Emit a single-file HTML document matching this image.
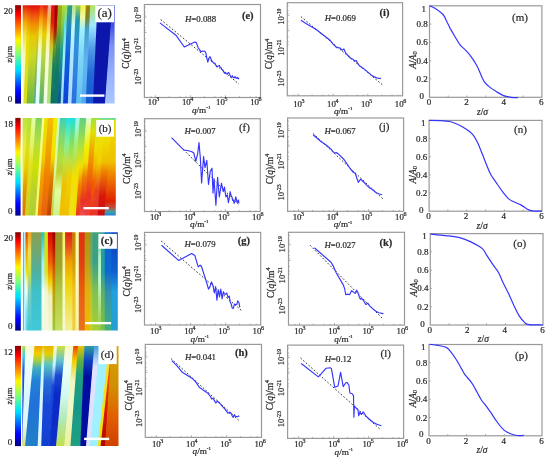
<!DOCTYPE html><html><head><meta charset="utf-8"><style>html,body{margin:0;padding:0;background:#fff;}svg{display:block;}text{stroke:#262626;stroke-width:0.2px;}</style></head><body>
<svg width="550" height="461" viewBox="0 0 550 461" font-family="'Liberation Serif','Times New Roman',serif" fill="#262626" stroke-width="0.25">
<defs><linearGradient id="jet" x1="0" y1="1" x2="0" y2="0"><stop offset="0" stop-color="#00007f"/><stop offset="0.11" stop-color="#0000ff"/><stop offset="0.125" stop-color="#0000ff"/><stop offset="0.34" stop-color="#00dcff"/><stop offset="0.36" stop-color="#00e5f6"/><stop offset="0.5" stop-color="#7dff7a"/><stop offset="0.64" stop-color="#f8f800"/><stop offset="0.66" stop-color="#ffea00"/><stop offset="0.89" stop-color="#ff1300"/><stop offset="0.91" stop-color="#ff0000"/><stop offset="1" stop-color="#7f0000"/></linearGradient><filter id="gb" x="0" y="0" width="100%" height="100%" filterUnits="userSpaceOnUse"><feGaussianBlur stdDeviation="0.35"/></filter><filter id="bl" x="-5%" y="-5%" width="110%" height="110%"><feGaussianBlur stdDeviation="0.5"/></filter><linearGradient id="ga0" gradientUnits="userSpaceOnUse" x1="0" y1="5.2" x2="0" y2="103.6"><stop offset="0" stop-color="#e02010"/><stop offset=".08" stop-color="#f06010"/><stop offset=".18" stop-color="#f0b000"/><stop offset=".3" stop-color="#f0e040"/><stop offset=".5" stop-color="#f8f8b0"/><stop offset="1" stop-color="#fafad8"/></linearGradient><linearGradient id="ga1" gradientUnits="userSpaceOnUse" x1="0" y1="5.2" x2="0" y2="103.6"><stop offset="0" stop-color="#e01010"/><stop offset=".1" stop-color="#f06010"/><stop offset=".2" stop-color="#f0a000"/><stop offset=".32" stop-color="#e8d800"/><stop offset=".6" stop-color="#e0e010"/><stop offset="1" stop-color="#d8e020"/></linearGradient><linearGradient id="ga2" gradientUnits="userSpaceOnUse" x1="0" y1="5.2" x2="0" y2="103.6"><stop offset="0" stop-color="#e01010"/><stop offset=".1" stop-color="#f05010"/><stop offset=".2" stop-color="#f09000"/><stop offset=".32" stop-color="#e8c800"/><stop offset=".5" stop-color="#d0d820"/><stop offset=".75" stop-color="#a0c838"/><stop offset="1" stop-color="#70b840"/></linearGradient><linearGradient id="ga3" gradientUnits="userSpaceOnUse" x1="0" y1="5.2" x2="0" y2="103.6"><stop offset="0" stop-color="#e01010"/><stop offset=".15" stop-color="#f07010"/><stop offset=".28" stop-color="#e0c000"/><stop offset=".5" stop-color="#b0c840"/><stop offset=".8" stop-color="#60b080"/><stop offset="1" stop-color="#50b090"/></linearGradient><linearGradient id="ga4" gradientUnits="userSpaceOnUse" x1="0" y1="5.2" x2="0" y2="103.6"><stop offset="0" stop-color="#f03010"/><stop offset=".14" stop-color="#f0a000"/><stop offset=".26" stop-color="#f0e040"/><stop offset=".4" stop-color="#f8f8a0"/><stop offset=".6" stop-color="#e8fff0"/><stop offset="1" stop-color="#e0fff8"/></linearGradient><linearGradient id="ga5" gradientUnits="userSpaceOnUse" x1="0" y1="5.2" x2="0" y2="103.6"><stop offset="0" stop-color="#e02010"/><stop offset=".15" stop-color="#f08010"/><stop offset=".3" stop-color="#e8d000"/><stop offset=".5" stop-color="#b8d840"/><stop offset=".8" stop-color="#80c058"/><stop offset="1" stop-color="#50b070"/></linearGradient><linearGradient id="ga6" gradientUnits="userSpaceOnUse" x1="0" y1="5.2" x2="0" y2="103.6"><stop offset="0" stop-color="#f0a0a0"/><stop offset=".15" stop-color="#f0c040"/><stop offset=".3" stop-color="#f8f080"/><stop offset=".5" stop-color="#f8fcd0"/><stop offset="1" stop-color="#f0fce0"/></linearGradient><linearGradient id="ga7" gradientUnits="userSpaceOnUse" x1="0" y1="5.2" x2="0" y2="103.6"><stop offset="0" stop-color="#e01010"/><stop offset=".18" stop-color="#e02010"/><stop offset=".28" stop-color="#e07010"/><stop offset=".4" stop-color="#d0c020"/><stop offset=".55" stop-color="#b0d860"/><stop offset="1" stop-color="#b0e080"/></linearGradient><linearGradient id="ga8" gradientUnits="userSpaceOnUse" x1="0" y1="5.2" x2="0" y2="103.6"><stop offset="0" stop-color="#a00000"/><stop offset=".2" stop-color="#b00800"/><stop offset=".3" stop-color="#a03000"/><stop offset=".42" stop-color="#70a020"/><stop offset=".6" stop-color="#208058"/><stop offset="1" stop-color="#0a7060"/></linearGradient><linearGradient id="ga9" gradientUnits="userSpaceOnUse" x1="0" y1="5.2" x2="0" y2="103.6"><stop offset="0" stop-color="#a0b020"/><stop offset=".2" stop-color="#80a820"/><stop offset=".45" stop-color="#308850"/><stop offset=".7" stop-color="#0a7868"/><stop offset="1" stop-color="#087068"/></linearGradient><linearGradient id="ga10" gradientUnits="userSpaceOnUse" x1="0" y1="5.2" x2="0" y2="103.6"><stop offset="0" stop-color="#b8d830"/><stop offset=".2" stop-color="#80c848"/><stop offset=".45" stop-color="#20a090"/><stop offset="1" stop-color="#0a5090"/></linearGradient><linearGradient id="ga11" gradientUnits="userSpaceOnUse" x1="0" y1="5.2" x2="0" y2="103.6"><stop offset="0" stop-color="#a0e040"/><stop offset=".2" stop-color="#60e0e0"/><stop offset=".5" stop-color="#a0f0ff"/><stop offset="1" stop-color="#a0d8ff"/></linearGradient><linearGradient id="ga12" gradientUnits="userSpaceOnUse" x1="0" y1="5.2" x2="0" y2="103.6"><stop offset="0" stop-color="#30a080"/><stop offset=".25" stop-color="#2080c0"/><stop offset=".5" stop-color="#1060e0"/><stop offset="1" stop-color="#1040d8"/></linearGradient><linearGradient id="ga13" gradientUnits="userSpaceOnUse" x1="0" y1="5.2" x2="0" y2="103.6"><stop offset="0" stop-color="#c0e080"/><stop offset=".2" stop-color="#c0f8ff"/><stop offset=".5" stop-color="#b0e8ff"/><stop offset="1" stop-color="#b0d8ff"/></linearGradient><linearGradient id="ga14" gradientUnits="userSpaceOnUse" x1="0" y1="5.2" x2="0" y2="103.6"><stop offset="0" stop-color="#a0d040"/><stop offset=".15" stop-color="#2098b0"/><stop offset=".4" stop-color="#3090d8"/><stop offset=".7" stop-color="#3080e0"/><stop offset="1" stop-color="#2870e0"/></linearGradient><linearGradient id="ga15" gradientUnits="userSpaceOnUse" x1="0" y1="5.2" x2="0" y2="103.6"><stop offset="0" stop-color="#f8f040"/><stop offset=".12" stop-color="#f0f8a0"/><stop offset=".25" stop-color="#a0f0ff"/><stop offset=".5" stop-color="#80d8f8"/><stop offset="1" stop-color="#60c0f0"/></linearGradient><linearGradient id="ga16" gradientUnits="userSpaceOnUse" x1="0" y1="5.2" x2="0" y2="103.6"><stop offset="0" stop-color="#a08000"/><stop offset=".12" stop-color="#808020"/><stop offset=".25" stop-color="#40a0d0"/><stop offset=".6" stop-color="#60b8f0"/><stop offset="1" stop-color="#50a8f0"/></linearGradient><linearGradient id="ga17" gradientUnits="userSpaceOnUse" x1="0" y1="5.2" x2="0" y2="103.6"><stop offset="0" stop-color="#b0e060"/><stop offset=".2" stop-color="#a0e8ff"/><stop offset=".45" stop-color="#5098e8"/><stop offset=".7" stop-color="#2068d8"/><stop offset="1" stop-color="#1858d0"/></linearGradient><linearGradient id="ga18" gradientUnits="userSpaceOnUse" x1="0" y1="5.2" x2="0" y2="103.6"><stop offset="0" stop-color="#0818b0"/><stop offset=".5" stop-color="#0a14a8"/><stop offset="1" stop-color="#0818b0"/></linearGradient><linearGradient id="ga19" gradientUnits="userSpaceOnUse" x1="0" y1="5.2" x2="0" y2="103.6"><stop offset="0" stop-color="#2030d0"/><stop offset=".2" stop-color="#4050e0"/><stop offset=".4" stop-color="#7890f0"/><stop offset=".7" stop-color="#98b0ff"/><stop offset="1" stop-color="#a8c8ff"/></linearGradient><linearGradient id="gb0" gradientUnits="userSpaceOnUse" x1="0" y1="117.9" x2="0" y2="215.6"><stop offset="0" stop-color="#c0e040"/><stop offset=".3" stop-color="#e8f040"/><stop offset=".6" stop-color="#f0e020"/><stop offset="1" stop-color="#f8e060"/></linearGradient><linearGradient id="gb1" gradientUnits="userSpaceOnUse" x1="0" y1="117.9" x2="0" y2="215.6"><stop offset="0" stop-color="#b0e040"/><stop offset=".3" stop-color="#d8e020"/><stop offset=".5" stop-color="#e8d000"/><stop offset=".7" stop-color="#e0a000"/><stop offset="1" stop-color="#e07000"/></linearGradient><linearGradient id="gb2" gradientUnits="userSpaceOnUse" x1="0" y1="117.9" x2="0" y2="215.6"><stop offset="0" stop-color="#e0ffa0"/><stop offset=".3" stop-color="#e8f060"/><stop offset=".5" stop-color="#e0e020"/><stop offset="1" stop-color="#c8d020"/></linearGradient><linearGradient id="gb3" gradientUnits="userSpaceOnUse" x1="0" y1="117.9" x2="0" y2="215.6"><stop offset="0" stop-color="#80d060"/><stop offset=".25" stop-color="#b0e040"/><stop offset=".5" stop-color="#d0e000"/><stop offset=".75" stop-color="#b8d030"/><stop offset="1" stop-color="#b0d030"/></linearGradient><linearGradient id="gb4" gradientUnits="userSpaceOnUse" x1="0" y1="117.9" x2="0" y2="215.6"><stop offset="0" stop-color="#f8ff90"/><stop offset=".5" stop-color="#f8f870"/><stop offset="1" stop-color="#f8f870"/></linearGradient><linearGradient id="gb5" gradientUnits="userSpaceOnUse" x1="0" y1="117.9" x2="0" y2="215.6"><stop offset="0" stop-color="#f0e000"/><stop offset=".4" stop-color="#f0d000"/><stop offset=".6" stop-color="#f0a000"/><stop offset="1" stop-color="#f08000"/></linearGradient><linearGradient id="gb6" gradientUnits="userSpaceOnUse" x1="0" y1="117.9" x2="0" y2="215.6"><stop offset="0" stop-color="#f0c000"/><stop offset=".35" stop-color="#f0a000"/><stop offset=".6" stop-color="#f08000"/><stop offset="1" stop-color="#e86010"/></linearGradient><linearGradient id="gb7" gradientUnits="userSpaceOnUse" x1="0" y1="117.9" x2="0" y2="215.6"><stop offset="0" stop-color="#f0f000"/><stop offset=".4" stop-color="#f0e000"/><stop offset=".6" stop-color="#e08000"/><stop offset="1" stop-color="#c04000"/></linearGradient><linearGradient id="gb8" gradientUnits="userSpaceOnUse" x1="0" y1="117.9" x2="0" y2="215.6"><stop offset="0" stop-color="#c0f8f0"/><stop offset=".3" stop-color="#e0f8a0"/><stop offset=".5" stop-color="#e0f8a0"/><stop offset="1" stop-color="#c0d030"/></linearGradient><linearGradient id="gb9" gradientUnits="userSpaceOnUse" x1="0" y1="117.9" x2="0" y2="215.6"><stop offset="0" stop-color="#40d0b0"/><stop offset=".2" stop-color="#80d870"/><stop offset=".4" stop-color="#b0e040"/><stop offset=".55" stop-color="#c0d030"/><stop offset=".75" stop-color="#e0ffa0"/><stop offset="1" stop-color="#d0f090"/></linearGradient><linearGradient id="gb10" gradientUnits="userSpaceOnUse" x1="0" y1="117.9" x2="0" y2="215.6"><stop offset="0" stop-color="#20e0e0"/><stop offset=".25" stop-color="#80f0a0"/><stop offset=".45" stop-color="#c0e040"/><stop offset=".7" stop-color="#f0c000"/><stop offset="1" stop-color="#f0c000"/></linearGradient><linearGradient id="gb11" gradientUnits="userSpaceOnUse" x1="0" y1="117.9" x2="0" y2="215.6"><stop offset="0" stop-color="#20e0e0"/><stop offset=".25" stop-color="#80e060"/><stop offset=".45" stop-color="#c0e040"/><stop offset=".6" stop-color="#f0d000"/><stop offset="1" stop-color="#f0c000"/></linearGradient><linearGradient id="gb12" gradientUnits="userSpaceOnUse" x1="0" y1="117.9" x2="0" y2="215.6"><stop offset="0" stop-color="#a0f8f0"/><stop offset=".25" stop-color="#a0f080"/><stop offset=".45" stop-color="#c0e040"/><stop offset=".6" stop-color="#f0e000"/><stop offset="1" stop-color="#f0e020"/></linearGradient><linearGradient id="gb13" gradientUnits="userSpaceOnUse" x1="0" y1="117.9" x2="0" y2="215.6"><stop offset="0" stop-color="#60d080"/><stop offset=".3" stop-color="#b0e040"/><stop offset=".5" stop-color="#f0e000"/><stop offset="1" stop-color="#f0e000"/></linearGradient><linearGradient id="gb14" gradientUnits="userSpaceOnUse" x1="0" y1="117.9" x2="0" y2="215.6"><stop offset="0" stop-color="#60d080"/><stop offset=".3" stop-color="#b0e040"/><stop offset=".5" stop-color="#f0e000"/><stop offset=".7" stop-color="#f08000"/><stop offset="1" stop-color="#e83020"/></linearGradient><linearGradient id="gb15" gradientUnits="userSpaceOnUse" x1="0" y1="117.9" x2="0" y2="215.6"><stop offset="0" stop-color="#e0ffd0"/><stop offset=".3" stop-color="#f0f000"/><stop offset=".45" stop-color="#f0e000"/><stop offset=".6" stop-color="#f08000"/><stop offset=".85" stop-color="#e83020"/><stop offset="1" stop-color="#f05050"/></linearGradient><linearGradient id="gb16" gradientUnits="userSpaceOnUse" x1="0" y1="117.9" x2="0" y2="215.6"><stop offset="0" stop-color="#a0e040"/><stop offset=".15" stop-color="#e0e000"/><stop offset=".3" stop-color="#f0b000"/><stop offset=".5" stop-color="#f08000"/><stop offset=".8" stop-color="#e83020"/><stop offset="1" stop-color="#f04040"/></linearGradient><linearGradient id="gb17" gradientUnits="userSpaceOnUse" x1="0" y1="117.9" x2="0" y2="215.6"><stop offset="0" stop-color="#b0e040"/><stop offset=".3" stop-color="#f0e000"/><stop offset=".5" stop-color="#f0b000"/><stop offset=".65" stop-color="#f06000"/><stop offset="1" stop-color="#e83020"/></linearGradient><linearGradient id="gb18" gradientUnits="userSpaceOnUse" x1="0" y1="117.9" x2="0" y2="215.6"><stop offset="0" stop-color="#40e0e0"/><stop offset=".03" stop-color="#e0e000"/><stop offset=".2" stop-color="#f0e000"/><stop offset=".45" stop-color="#f0d000"/><stop offset=".55" stop-color="#f0a000"/><stop offset=".75" stop-color="#e84020"/><stop offset="1" stop-color="#e83030"/></linearGradient><linearGradient id="gb19" gradientUnits="userSpaceOnUse" x1="0" y1="117.9" x2="0" y2="215.6"><stop offset="0" stop-color="#40e0e0"/><stop offset=".03" stop-color="#e0e000"/><stop offset=".2" stop-color="#f0e000"/><stop offset=".45" stop-color="#f0c000"/><stop offset=".55" stop-color="#f08000"/><stop offset=".8" stop-color="#d81810"/><stop offset="1" stop-color="#c81010"/></linearGradient><linearGradient id="gb20" gradientUnits="userSpaceOnUse" x1="0" y1="117.9" x2="0" y2="215.6"><stop offset="0" stop-color="#20e0e0"/><stop offset=".03" stop-color="#e0e000"/><stop offset=".2" stop-color="#f0d000"/><stop offset=".45" stop-color="#f0c000"/><stop offset=".55" stop-color="#f09000"/><stop offset=".85" stop-color="#e02000"/><stop offset=".92" stop-color="#c05040"/><stop offset=".96" stop-color="#40a0a0"/><stop offset="1" stop-color="#2080e0"/></linearGradient><linearGradient id="gc0" gradientUnits="userSpaceOnUse" x1="0" y1="232.2" x2="0" y2="330.6"><stop offset="0" stop-color="#20d0f0"/><stop offset="1" stop-color="#30d0f0"/></linearGradient><linearGradient id="gc1" gradientUnits="userSpaceOnUse" x1="0" y1="232.2" x2="0" y2="330.6"><stop offset="0" stop-color="#e0ffff"/><stop offset="1" stop-color="#f0ffff"/></linearGradient><linearGradient id="gc2" gradientUnits="userSpaceOnUse" x1="0" y1="232.2" x2="0" y2="330.6"><stop offset="0" stop-color="#e04000"/><stop offset=".2" stop-color="#f0a000"/><stop offset=".4" stop-color="#f0e000"/><stop offset=".5" stop-color="#f0f8a0"/><stop offset=".6" stop-color="#f0fff0"/><stop offset=".8" stop-color="#80e0f0"/><stop offset="1" stop-color="#60d0e0"/></linearGradient><linearGradient id="gc3" gradientUnits="userSpaceOnUse" x1="0" y1="232.2" x2="0" y2="330.6"><stop offset="0" stop-color="#f0a020"/><stop offset=".2" stop-color="#f0e060"/><stop offset=".4" stop-color="#d0e040"/><stop offset=".6" stop-color="#80d0c0"/><stop offset="1" stop-color="#40c8d8"/></linearGradient><linearGradient id="gc4" gradientUnits="userSpaceOnUse" x1="0" y1="232.2" x2="0" y2="330.6"><stop offset="0" stop-color="#88a050"/><stop offset=".2" stop-color="#70a870"/><stop offset=".4" stop-color="#50b0a0"/><stop offset=".6" stop-color="#40c0c8"/><stop offset="1" stop-color="#40c8d8"/></linearGradient><linearGradient id="gc5" gradientUnits="userSpaceOnUse" x1="0" y1="232.2" x2="0" y2="330.6"><stop offset="0" stop-color="#20c0c0"/><stop offset=".3" stop-color="#a0f0ff"/><stop offset=".5" stop-color="#c0f8ff"/><stop offset=".6" stop-color="#f0fff0"/><stop offset="1" stop-color="#f0f8e0"/></linearGradient><linearGradient id="gc6" gradientUnits="userSpaceOnUse" x1="0" y1="232.2" x2="0" y2="330.6"><stop offset="0" stop-color="#d0e000"/><stop offset=".4" stop-color="#e0e020"/><stop offset=".6" stop-color="#f0f8d0"/><stop offset="1" stop-color="#f8f8e0"/></linearGradient><linearGradient id="gc7" gradientUnits="userSpaceOnUse" x1="0" y1="232.2" x2="0" y2="330.6"><stop offset="0" stop-color="#e00000"/><stop offset=".3" stop-color="#f06000"/><stop offset=".5" stop-color="#f0d000"/><stop offset=".65" stop-color="#f0f0c0"/><stop offset="1" stop-color="#f0f8d0"/></linearGradient><linearGradient id="gc8" gradientUnits="userSpaceOnUse" x1="0" y1="232.2" x2="0" y2="330.6"><stop offset="0" stop-color="#900000"/><stop offset=".2" stop-color="#c02000"/><stop offset=".4" stop-color="#d06000"/><stop offset=".6" stop-color="#c0a000"/><stop offset="1" stop-color="#a0c840"/></linearGradient><linearGradient id="gc9" gradientUnits="userSpaceOnUse" x1="0" y1="232.2" x2="0" y2="330.6"><stop offset="0" stop-color="#a09020"/><stop offset=".35" stop-color="#a0a828"/><stop offset=".6" stop-color="#b0c840"/><stop offset="1" stop-color="#c8e060"/></linearGradient><linearGradient id="gc10" gradientUnits="userSpaceOnUse" x1="0" y1="232.2" x2="0" y2="330.6"><stop offset="0" stop-color="#f0f060"/><stop offset=".4" stop-color="#f8f8b0"/><stop offset="1" stop-color="#f8f8d0"/></linearGradient><linearGradient id="gc11" gradientUnits="userSpaceOnUse" x1="0" y1="232.2" x2="0" y2="330.6"><stop offset="0" stop-color="#e02010"/><stop offset=".15" stop-color="#e85020"/><stop offset=".3" stop-color="#f0a000"/><stop offset=".5" stop-color="#f0d000"/><stop offset=".7" stop-color="#f0e040"/><stop offset="1" stop-color="#f0f0a0"/></linearGradient><linearGradient id="gc12" gradientUnits="userSpaceOnUse" x1="0" y1="232.2" x2="0" y2="330.6"><stop offset="0" stop-color="#c08000"/><stop offset=".3" stop-color="#d09800"/><stop offset=".6" stop-color="#f0c020"/><stop offset="1" stop-color="#f0d040"/></linearGradient><linearGradient id="gc13" gradientUnits="userSpaceOnUse" x1="0" y1="232.2" x2="0" y2="330.6"><stop offset="0" stop-color="#f8f8a0"/><stop offset=".5" stop-color="#f8f8c0"/><stop offset="1" stop-color="#f8f0a0"/></linearGradient><linearGradient id="gc14" gradientUnits="userSpaceOnUse" x1="0" y1="232.2" x2="0" y2="330.6"><stop offset="0" stop-color="#e03010"/><stop offset=".3" stop-color="#e04010"/><stop offset=".6" stop-color="#e86010"/><stop offset="1" stop-color="#e87020"/></linearGradient><linearGradient id="gc15" gradientUnits="userSpaceOnUse" x1="0" y1="232.2" x2="0" y2="330.6"><stop offset="0" stop-color="#b09010"/><stop offset=".3" stop-color="#b8a018"/><stop offset=".6" stop-color="#e0b010"/><stop offset="1" stop-color="#f0b800"/></linearGradient><linearGradient id="gc16" gradientUnits="userSpaceOnUse" x1="0" y1="232.2" x2="0" y2="330.6"><stop offset="0" stop-color="#80a040"/><stop offset=".3" stop-color="#80a848"/><stop offset=".6" stop-color="#c0c020"/><stop offset="1" stop-color="#d0d020"/></linearGradient><linearGradient id="gc17" gradientUnits="userSpaceOnUse" x1="0" y1="232.2" x2="0" y2="330.6"><stop offset="0" stop-color="#40a080"/><stop offset=".3" stop-color="#38a088"/><stop offset=".6" stop-color="#80c050"/><stop offset="1" stop-color="#a8d030"/></linearGradient><linearGradient id="gc18" gradientUnits="userSpaceOnUse" x1="0" y1="232.2" x2="0" y2="330.6"><stop offset="0" stop-color="#40a080"/><stop offset=".25" stop-color="#b0f0c0"/><stop offset=".5" stop-color="#c0f8d0"/><stop offset="1" stop-color="#90c840"/></linearGradient><linearGradient id="gc19" gradientUnits="userSpaceOnUse" x1="0" y1="232.2" x2="0" y2="330.6"><stop offset="0" stop-color="#20a0a0"/><stop offset=".4" stop-color="#20a0a0"/><stop offset=".6" stop-color="#60b060"/><stop offset="1" stop-color="#80c040"/></linearGradient><linearGradient id="gc20" gradientUnits="userSpaceOnUse" x1="0" y1="232.2" x2="0" y2="330.6"><stop offset="0" stop-color="#1060d0"/><stop offset=".4" stop-color="#1068d0"/><stop offset=".6" stop-color="#3090b0"/><stop offset="1" stop-color="#40b080"/></linearGradient><linearGradient id="gc21" gradientUnits="userSpaceOnUse" x1="0" y1="232.2" x2="0" y2="330.6"><stop offset="0" stop-color="#0840c0"/><stop offset=".4" stop-color="#1060d0"/><stop offset=".6" stop-color="#20a0e0"/><stop offset="1" stop-color="#20a0d0"/></linearGradient><linearGradient id="gd0" gradientUnits="userSpaceOnUse" x1="0" y1="345.9" x2="0" y2="446.1"><stop offset="0" stop-color="#b0e040"/><stop offset=".1" stop-color="#40d0e0"/><stop offset=".25" stop-color="#2050e0"/><stop offset="1" stop-color="#1040e0"/></linearGradient><linearGradient id="gd1" gradientUnits="userSpaceOnUse" x1="0" y1="345.9" x2="0" y2="446.1"><stop offset="0" stop-color="#f8f8d0"/><stop offset=".15" stop-color="#f0fff8"/><stop offset=".5" stop-color="#d8f8ff"/><stop offset=".8" stop-color="#e0f8f0"/><stop offset="1" stop-color="#e0e060"/></linearGradient><linearGradient id="gd2" gradientUnits="userSpaceOnUse" x1="0" y1="345.9" x2="0" y2="446.1"><stop offset="0" stop-color="#f0a000"/><stop offset=".08" stop-color="#f0d000"/><stop offset=".15" stop-color="#a0d040"/><stop offset=".22" stop-color="#40b0c0"/><stop offset=".35" stop-color="#2080d8"/><stop offset=".6" stop-color="#2070d8"/><stop offset="1" stop-color="#2080c8"/></linearGradient><linearGradient id="gd3" gradientUnits="userSpaceOnUse" x1="0" y1="345.9" x2="0" y2="446.1"><stop offset="0" stop-color="#f0c000"/><stop offset=".1" stop-color="#e0f0a0"/><stop offset=".2" stop-color="#d0f8ff"/><stop offset="1" stop-color="#e0f8ff"/></linearGradient><linearGradient id="gd4" gradientUnits="userSpaceOnUse" x1="0" y1="345.9" x2="0" y2="446.1"><stop offset="0" stop-color="#f0b000"/><stop offset=".08" stop-color="#e0d000"/><stop offset=".18" stop-color="#60c8c0"/><stop offset=".35" stop-color="#2870d8"/><stop offset=".6" stop-color="#1848d8"/><stop offset="1" stop-color="#1040d0"/></linearGradient><linearGradient id="gd5" gradientUnits="userSpaceOnUse" x1="0" y1="345.9" x2="0" y2="446.1"><stop offset="0" stop-color="#f8f8c0"/><stop offset=".2" stop-color="#c0f0ff"/><stop offset=".4" stop-color="#1848d8"/><stop offset="1" stop-color="#1040d0"/></linearGradient><linearGradient id="gd6" gradientUnits="userSpaceOnUse" x1="0" y1="345.9" x2="0" y2="446.1"><stop offset="0" stop-color="#d0e040"/><stop offset=".15" stop-color="#60c0d0"/><stop offset=".3" stop-color="#1848d0"/><stop offset=".5" stop-color="#0a28c8"/><stop offset="1" stop-color="#0a30c8"/></linearGradient><linearGradient id="gd7" gradientUnits="userSpaceOnUse" x1="0" y1="345.9" x2="0" y2="446.1"><stop offset="0" stop-color="#f8f8c0"/><stop offset=".2" stop-color="#f0fff8"/><stop offset=".5" stop-color="#d0f8f0"/><stop offset=".75" stop-color="#b0e8b0"/><stop offset="1" stop-color="#c0e050"/></linearGradient><linearGradient id="gd8" gradientUnits="userSpaceOnUse" x1="0" y1="345.9" x2="0" y2="446.1"><stop offset="0" stop-color="#f04000"/><stop offset=".15" stop-color="#f0d000"/><stop offset=".35" stop-color="#f0f8c0"/><stop offset=".6" stop-color="#f0f8c8"/><stop offset="1" stop-color="#f0f0a0"/></linearGradient><linearGradient id="gd9" gradientUnits="userSpaceOnUse" x1="0" y1="345.9" x2="0" y2="446.1"><stop offset="0" stop-color="#f0c000"/><stop offset=".15" stop-color="#60b040"/><stop offset=".3" stop-color="#20a080"/><stop offset=".6" stop-color="#18988a"/><stop offset="1" stop-color="#20a080"/></linearGradient><linearGradient id="gd10" gradientUnits="userSpaceOnUse" x1="0" y1="345.9" x2="0" y2="446.1"><stop offset="0" stop-color="#30a0a0"/><stop offset=".15" stop-color="#1040c0"/><stop offset=".3" stop-color="#0010a0"/><stop offset="1" stop-color="#0010a0"/></linearGradient><linearGradient id="gd11" gradientUnits="userSpaceOnUse" x1="0" y1="345.9" x2="0" y2="446.1"><stop offset="0" stop-color="#40a0e0"/><stop offset=".2" stop-color="#e0e0ff"/><stop offset="1" stop-color="#e0e0ff"/></linearGradient><linearGradient id="gd12" gradientUnits="userSpaceOnUse" x1="0" y1="345.9" x2="0" y2="446.1"><stop offset="0" stop-color="#a0f0ff"/><stop offset="1" stop-color="#a0f0ff"/></linearGradient><linearGradient id="gd13" gradientUnits="userSpaceOnUse" x1="0" y1="345.9" x2="0" y2="446.1"><stop offset="0" stop-color="#f0e040"/><stop offset="1" stop-color="#f0e000"/></linearGradient><linearGradient id="gd14" gradientUnits="userSpaceOnUse" x1="0" y1="345.9" x2="0" y2="446.1"><stop offset="0" stop-color="#f08000"/><stop offset=".6" stop-color="#e02000"/><stop offset="1" stop-color="#b00000"/></linearGradient><linearGradient id="gd15" gradientUnits="userSpaceOnUse" x1="0" y1="345.9" x2="0" y2="446.1"><stop offset="0" stop-color="#e0a000"/><stop offset=".4" stop-color="#d09000"/><stop offset=".7" stop-color="#e06000"/><stop offset="1" stop-color="#d04000"/></linearGradient></defs>
<rect width="550" height="461" fill="#fff"/><g filter="url(#gb)">
<rect x="15.1" y="5.2" width="5.9" height="98.4" fill="url(#jet)"/>
<text x="12.8" y="14" font-size="9" text-anchor="end">20</text>
<text x="12.3" y="102.1" font-size="9" text-anchor="end">0</text>
<text transform="translate(11.9 54.4) rotate(-90)" font-size="8.5" text-anchor="middle"><tspan font-style="italic">z</tspan>/μm</text>
<clipPath id="clipa"><rect x="22.7" y="5.2" width="91.9" height="98.4"/></clipPath>
<g clip-path="url(#clipa)"><g filter="url(#bl)"><g transform="translate(2.4 0) skewX(-2.577)">
<polygon points="14.4,2.2 26.3,2.2 26.3,106.6 14.4,106.6" fill="url(#ga0)"/>
<polygon points="25.7,2.2 29.5,2.2 29.5,106.6 25.7,106.6" fill="url(#ga1)"/>
<polygon points="28.9,2.2 36.6,2.2 36.6,106.6 28.9,106.6" fill="url(#ga2)"/>
<polygon points="36,2.2 38.3,2.2 38.3,106.6 36,106.6" fill="url(#ga3)"/>
<polygon points="37.7,2.2 42,2.2 42,106.6 37.7,106.6" fill="url(#ga4)"/>
<polygon points="41.4,2.2 46.3,2.2 46.3,106.6 41.4,106.6" fill="url(#ga5)"/>
<polygon points="45.7,2.2 49.8,2.2 49.8,106.6 45.7,106.6" fill="url(#ga6)"/>
<polygon points="49.2,2.2 53.3,2.2 53.3,106.6 49.2,106.6" fill="url(#ga7)"/>
<polygon points="52.7,2.2 56.3,2.2 56.3,106.6 52.7,106.6" fill="url(#ga8)"/>
<polygon points="55.7,2.2 60.5,2.2 60.5,106.6 55.7,106.6" fill="url(#ga9)"/>
<polygon points="59.9,2.2 63.5,2.2 63.5,106.6 59.9,106.6" fill="url(#ga10)"/>
<polygon points="62.9,2.2 65.9,2.2 65.9,106.6 62.9,106.6" fill="url(#ga11)"/>
<polygon points="65.3,2.2 70.7,2.2 70.7,106.6 65.3,106.6" fill="url(#ga12)"/>
<polygon points="70.1,2.2 74.3,2.2 74.3,106.6 70.1,106.6" fill="url(#ga13)"/>
<polygon points="73.7,2.2 79,2.2 79,106.6 73.7,106.6" fill="url(#ga14)"/>
<polygon points="78.4,2.2 84.3,2.2 84.3,106.6 78.4,106.6" fill="url(#ga15)"/>
<polygon points="83.7,2.2 88.6,2.2 88.6,106.6 83.7,106.6" fill="url(#ga16)"/>
<polygon points="88,2.2 95.8,2.2 95.8,106.6 88,106.6" fill="url(#ga17)"/>
<polygon points="95.2,2.2 110.7,2.2 107.7,106.6 95.2,106.6" fill="url(#ga18)"/>
<polygon points="110.1,2.2 124.3,2.2 124.3,106.6 107.1,106.6" fill="url(#ga19)"/>
</g></g></g>
<rect x="95.3" y="5.4" width="18.7" height="16.9" fill="#fff"/>
<text x="104.7" y="17.2" font-size="13" text-anchor="middle">(a)</text>
<rect x="80" y="94.4" width="24.4" height="2.4" fill="#fff"/>
<rect x="15.3" y="117.9" width="5.3" height="97.7" fill="url(#jet)"/>
<text x="13" y="126.7" font-size="9" text-anchor="end">18</text>
<text x="12.5" y="214.1" font-size="9" text-anchor="end">0</text>
<text transform="translate(12.1 166.8) rotate(-90)" font-size="8.5" text-anchor="middle"><tspan font-style="italic">z</tspan>/μm</text>
<clipPath id="clipb"><rect x="22.5" y="117.9" width="93.3" height="97.7"/></clipPath>
<g clip-path="url(#clipb)"><g filter="url(#bl)"><g transform="translate(11.7 0) skewX(-4.004)">
<polygon points="14.2,114.9 24.9,114.9 24.9,218.6 14.2,218.6" fill="url(#gb0)"/>
<polygon points="24.3,114.9 28.9,114.9 28.9,218.6 24.3,218.6" fill="url(#gb1)"/>
<polygon points="28.3,114.9 32.9,114.9 32.9,218.6 28.3,218.6" fill="url(#gb2)"/>
<polygon points="32.3,114.9 39.3,114.9 39.3,218.6 32.3,218.6" fill="url(#gb3)"/>
<polygon points="38.7,114.9 41.6,114.9 41.6,218.6 38.7,218.6" fill="url(#gb4)"/>
<polygon points="41,114.9 45,114.9 45,218.6 41,218.6" fill="url(#gb5)"/>
<polygon points="44.4,114.9 50.8,114.9 50.8,218.6 44.4,218.6" fill="url(#gb6)"/>
<polygon points="50.2,114.9 54.8,114.9 54.8,218.6 50.2,218.6" fill="url(#gb7)"/>
<polygon points="54.2,114.9 57.1,114.9 57.1,218.6 54.2,218.6" fill="url(#gb8)"/>
<polygon points="56.5,114.9 63.4,114.9 63.4,218.6 56.5,218.6" fill="url(#gb9)"/>
<polygon points="62.8,114.9 68.3,114.9 68.3,218.6 62.8,218.6" fill="url(#gb10)"/>
<polygon points="67.7,114.9 72.9,114.9 72.9,218.6 67.7,218.6" fill="url(#gb11)"/>
<polygon points="72.3,114.9 76.9,114.9 76.9,218.6 72.3,218.6" fill="url(#gb12)"/>
<polygon points="76.3,114.9 79.8,114.9 79.8,218.6 76.3,218.6" fill="url(#gb13)"/>
<polygon points="79.2,114.9 83.3,114.9 83.3,218.6 79.2,218.6" fill="url(#gb14)"/>
<polygon points="82.7,114.9 88.4,114.9 88.4,218.6 82.7,218.6" fill="url(#gb15)"/>
<polygon points="87.8,114.9 93.6,114.9 93.6,218.6 87.8,218.6" fill="url(#gb16)"/>
<polygon points="93,114.9 97,114.9 97,218.6 93,218.6" fill="url(#gb17)"/>
<polygon points="96.4,114.9 101.6,114.9 101.6,218.6 96.4,218.6" fill="url(#gb18)"/>
<polygon points="101,114.9 108.5,114.9 108.5,218.6 101,218.6" fill="url(#gb19)"/>
<polygon points="107.9,114.9 124.1,114.9 124.1,218.6 107.9,218.6" fill="url(#gb20)"/>
</g></g></g>
<rect x="96.2" y="120" width="17.8" height="16.7" fill="#fff"/>
<text x="105.1" y="132.1" font-size="11" text-anchor="middle">(b)</text>
<rect x="83.5" y="207" width="25.3" height="2.3" fill="#fff"/>
<rect x="15.2" y="232.2" width="5.6" height="98.4" fill="url(#jet)"/>
<text x="12.9" y="241" font-size="9" text-anchor="end">20</text>
<text x="12.4" y="329.1" font-size="9" text-anchor="end">0</text>
<text transform="translate(12 281.4) rotate(-90)" font-size="8.5" text-anchor="middle"><tspan font-style="italic">z</tspan>/μm</text>
<clipPath id="clipc"><rect x="22.9" y="232.2" width="94.9" height="98.4"/></clipPath>
<g clip-path="url(#clipc)"><g filter="url(#bl)"><g>
<polygon points="22.6,229.2 24.9,229.2 24.9,333.6 22.6,333.6" fill="url(#gc0)"/>
<polygon points="24.3,229.2 26,229.2 26,333.6 24.3,333.6" fill="url(#gc1)"/>
<polygon points="25.4,229.2 28.3,229.2 28.3,333.6 25.4,333.6" fill="url(#gc2)"/>
<polygon points="27.7,229.2 31.8,229.2 31.8,333.6 27.7,333.6" fill="url(#gc3)"/>
<polygon points="31.2,229.2 42.1,229.2 42.1,333.6 31.2,333.6" fill="url(#gc4)"/>
<polygon points="41.5,229.2 45,229.2 45,333.6 41.5,333.6" fill="url(#gc5)"/>
<polygon points="44.4,229.2 48.5,229.2 48.5,333.6 44.4,333.6" fill="url(#gc6)"/>
<polygon points="47.9,229.2 53.1,229.2 53.1,333.6 47.9,333.6" fill="url(#gc7)"/>
<polygon points="52.5,229.2 55.9,229.2 55.9,333.6 52.5,333.6" fill="url(#gc8)"/>
<polygon points="55.3,229.2 63.1,229.2 63.1,333.6 55.3,333.6" fill="url(#gc9)"/>
<polygon points="62.5,229.2 65.7,229.2 65.7,333.6 62.5,333.6" fill="url(#gc10)"/>
<polygon points="65.1,229.2 72.9,229.2 72.9,333.6 65.1,333.6" fill="url(#gc11)"/>
<polygon points="72.3,229.2 76.1,229.2 76.1,333.6 72.3,333.6" fill="url(#gc12)"/>
<polygon points="75.5,229.2 79.4,229.2 79.4,333.6 75.5,333.6" fill="url(#gc13)"/>
<polygon points="78.8,229.2 85.3,229.2 85.3,333.6 78.8,333.6" fill="url(#gc14)"/>
<polygon points="84.7,229.2 90.5,229.2 90.5,333.6 84.7,333.6" fill="url(#gc15)"/>
<polygon points="89.9,229.2 92.8,229.2 92.8,333.6 89.9,333.6" fill="url(#gc16)"/>
<polygon points="92.2,229.2 98.8,229.2 98.8,333.6 92.2,333.6" fill="url(#gc17)"/>
<polygon points="98.2,229.2 101.6,229.2 101.6,333.6 98.2,333.6" fill="url(#gc18)"/>
<polygon points="101,229.2 105.3,229.2 105.3,333.6 101,333.6" fill="url(#gc19)"/>
<polygon points="104.7,229.2 112,229.2 112,333.6 104.7,333.6" fill="url(#gc20)"/>
<polygon points="111.4,229.2 118.3,229.2 118.3,333.6 111.4,333.6" fill="url(#gc21)"/>
</g></g></g>
<rect x="98.5" y="233.9" width="18.4" height="14.9" fill="#fff"/>
<text x="106.8" y="243.7" font-size="10.8" text-anchor="middle" font-weight="bold">(c)</text>
<rect x="85.2" y="322" width="25.9" height="2.3" fill="#fff"/>
<rect x="15" y="345.9" width="6" height="100.2" fill="url(#jet)"/>
<text x="12.7" y="354.7" font-size="9" text-anchor="end">12</text>
<text x="12.2" y="444.6" font-size="9" text-anchor="end">0</text>
<text transform="translate(11.8 396) rotate(-90)" font-size="8.5" text-anchor="middle"><tspan font-style="italic">z</tspan>/μm</text>
<clipPath id="clipd"><rect x="22.3" y="345.9" width="96.2" height="100.2"/></clipPath>
<g clip-path="url(#clipd)"><g filter="url(#bl)"><g transform="translate(15.8 0) skewX(-2.291)">
<polygon points="14,342.9 23.9,342.9 24.8,449.1 14,449.1" fill="url(#gd0)"/>
<polygon points="23.3,342.9 33.3,342.9 27.6,449.1 24.2,449.1" fill="url(#gd1)"/>
<polygon points="32.7,342.9 40.8,342.9 40.3,449.1 27,449.1" fill="url(#gd2)"/>
<polygon points="40.2,342.9 43.3,342.9 43.9,449.1 39.7,449.1" fill="url(#gd3)"/>
<polygon points="42.7,342.9 52.3,342.9 50.8,449.1 43.3,449.1" fill="url(#gd4)"/>
<polygon points="51.7,342.9 55.8,342.9 52.3,449.1 50.2,449.1" fill="url(#gd5)"/>
<polygon points="55.2,342.9 63.9,342.9 58.5,449.1 51.7,449.1" fill="url(#gd6)"/>
<polygon points="63.3,342.9 72.1,342.9 66.7,449.1 57.9,449.1" fill="url(#gd7)"/>
<polygon points="71.5,342.9 76.7,342.9 73,449.1 66.1,449.1" fill="url(#gd8)"/>
<polygon points="76.1,342.9 83,342.9 83,449.1 72.4,449.1" fill="url(#gd9)"/>
<polygon points="82.4,342.9 93,342.9 88.5,449.1 82.4,449.1" fill="url(#gd10)"/>
<polygon points="92.4,342.9 98.5,342.9 92.3,449.1 87.9,449.1" fill="url(#gd11)"/>
<polygon points="97.9,342.9 107.6,342.9 100.3,449.1 91.7,449.1" fill="url(#gd12)"/>
<polygon points="107,342.9 110.3,342.9 103,449.1 99.7,449.1" fill="url(#gd13)"/>
<polygon points="109.7,342.9 110.3,342.9 107.6,449.1 102.4,449.1" fill="url(#gd14)"/>
<polygon points="109.7,342.9 127.3,342.9 127.3,449.1 107,449.1" fill="url(#gd15)"/>
</g></g></g>
<rect x="98.5" y="345.9" width="18.2" height="18.2" fill="#fff"/>
<text x="107.3" y="357.7" font-size="11.3" text-anchor="middle">(d)</text>
<rect x="84.1" y="437.7" width="25.1" height="2.4" fill="#fff"/>
<rect x="144.4" y="4.5" width="116.1" height="93" fill="none" stroke="#999999" stroke-width="1.2"/>
<path d="M151 97.5v-1.3 M155.4 97.5v-2.2 M169.3 97.5v-1.3 M179.9 97.5v-1.3 M186.1 97.5v-1.3 M190.4 97.5v-2.2 M204.4 97.5v-1.3 M214.9 97.5v-1.3 M221.1 97.5v-1.3 M225.5 97.5v-2.2 M239.4 97.5v-1.3 M250 97.5v-1.3 M256.1 97.5v-1.3 M144.4 32.5h2.2 M144.4 38.7h1.3 M144.4 43.3h1.3 M144.4 46.1h1.3 M144.4 17h2.2 M144.4 23.2h1.3 M144.4 27.8h1.3 M144.4 30.6h1.3 M144.4 7.7h1.3 M144.4 12.3h1.3 M144.4 15.1h1.3" stroke="#999999" stroke-width="0.8" fill="none"/>
<text x="152.2" y="104.5" font-size="8.8" text-anchor="middle">10</text><text x="156.2" y="100.9" font-size="6">3</text>
<text x="186.3" y="104.5" font-size="8.8" text-anchor="middle">10</text><text x="190.3" y="100.9" font-size="6">4</text>
<text x="220.5" y="104.5" font-size="8.8" text-anchor="middle">10</text><text x="224.5" y="100.9" font-size="6">5</text>
<text x="254.6" y="104.5" font-size="8.8" text-anchor="middle">10</text><text x="258.6" y="100.9" font-size="6">6</text>
<text transform="translate(141 23.1) rotate(-90)" font-size="8.6"><tspan>10</tspan><tspan dy="-3.2" font-size="5.8">-19</tspan></text>
<text transform="translate(141 54.1) rotate(-90)" font-size="8.6"><tspan>10</tspan><tspan dy="-3.2" font-size="5.8">-21</tspan></text>
<text transform="translate(141 85.1) rotate(-90)" font-size="8.6"><tspan>10</tspan><tspan dy="-3.2" font-size="5.8">-23</tspan></text>
<text transform="translate(129.4 53.5) rotate(-90)" font-size="9.5" text-anchor="middle">C(<tspan font-style="italic">q</tspan>)/m<tspan dy="-3.5" font-size="6">4</tspan></text>
<text x="201.2" y="112.5" font-size="9.2" text-anchor="middle"><tspan font-style="italic">q</tspan>/m<tspan dy="-3.6" font-size="5">-1</tspan></text>
<text x="185" y="21.7" font-size="8.8"><tspan font-style="italic">H</tspan>=0.088</text>
<text x="253.6" y="18.7" font-size="10.5" text-anchor="end" font-weight="bold">(e)</text>
<line x1="160.7" y1="19.6" x2="238.9" y2="84" stroke="#333" stroke-width="1" stroke-dasharray="1.7 1.9"/>
<polyline points="159.9,22.9 175.9,35.2 184.3,47 194.8,42 196.3,42.6 198.3,48 199.9,50.2 201,51.8 202.6,51 204.8,51.3 205.8,52.9 206.9,58.3 207.8,62.1 208.9,58.3 210,56.7 210.7,58.3 211.8,61 213.4,62.7 215.1,63.4 216.1,65.9 217.2,67 218.3,65.9 219.4,65.4 220.2,67.3 221,67.5 221.8,69.5 222.7,69.7 223.7,71.9 224.6,73.3 225.4,72.4 226.4,73.9 227.5,73.5 228.6,72.5 229.7,74.6 230.8,76.8 231.6,77.3 232.4,75.7 233.2,77.5 234,77.8 235,76.5 236.2,78.4 237.2,77.3 238.4,78.9 238.9,77.8" fill="none" stroke="#3535ff" stroke-width="1.15" stroke-linejoin="round"/>
<rect x="144.5" y="118.7" width="115.8" height="92.8" fill="none" stroke="#999999" stroke-width="1.2"/>
<path d="M151.1 211.5v-1.3 M155.5 211.5v-2.2 M169.4 211.5v-1.3 M179.9 211.5v-1.3 M186.1 211.5v-1.3 M190.4 211.5v-2.2 M204.3 211.5v-1.3 M214.9 211.5v-1.3 M221 211.5v-1.3 M225.4 211.5v-2.2 M239.3 211.5v-1.3 M249.8 211.5v-1.3 M255.9 211.5v-1.3 M144.5 146.7h2.2 M144.5 152.9h1.3 M144.5 157.5h1.3 M144.5 160.3h1.3 M144.5 131.2h2.2 M144.5 137.4h1.3 M144.5 142h1.3 M144.5 144.8h1.3 M144.5 121.9h1.3 M144.5 126.5h1.3 M144.5 129.3h1.3" stroke="#999999" stroke-width="0.8" fill="none"/>
<text x="154.3" y="219.6" font-size="8.8" text-anchor="middle">10</text><text x="158.3" y="216" font-size="6">3</text>
<text x="188.3" y="219.6" font-size="8.8" text-anchor="middle">10</text><text x="192.3" y="216" font-size="6">4</text>
<text x="222.4" y="219.6" font-size="8.8" text-anchor="middle">10</text><text x="226.4" y="216" font-size="6">5</text>
<text x="256.4" y="219.6" font-size="8.8" text-anchor="middle">10</text><text x="260.4" y="216" font-size="6">6</text>
<text transform="translate(141.1 137.3) rotate(-90)" font-size="8.6"><tspan>10</tspan><tspan dy="-3.2" font-size="5.8">-19</tspan></text>
<text transform="translate(141.1 168.3) rotate(-90)" font-size="8.6"><tspan>10</tspan><tspan dy="-3.2" font-size="5.8">-21</tspan></text>
<text transform="translate(141.1 199.3) rotate(-90)" font-size="8.6"><tspan>10</tspan><tspan dy="-3.2" font-size="5.8">-23</tspan></text>
<text transform="translate(129.5 168.7) rotate(-90)" font-size="9.5" text-anchor="middle">C(<tspan font-style="italic">q</tspan>)/m<tspan dy="-3.5" font-size="6">4</tspan></text>
<text x="199.3" y="227" font-size="9.2" text-anchor="middle"><tspan font-style="italic">q</tspan>/m<tspan dy="-3.6" font-size="5">-1</tspan></text>
<text x="184.5" y="134.2" font-size="8.8"><tspan font-style="italic">H</tspan>=0.007</text>
<text x="249.9" y="130.6" font-size="11" text-anchor="end">(f)</text>
<line x1="183.4" y1="149.7" x2="239" y2="204.7" stroke="#333" stroke-width="1" stroke-dasharray="1.7 1.9"/>
<polyline points="171.5,137.6 182.1,148.4 184.1,150 188.6,150.8 191.9,151.7 193.8,153 195.8,161.4 197.7,153.6 199,142.6 200.3,157.5 201.6,182.9 203.6,156.5 205,167.6 206.8,160.4 208.5,184.5 210.2,171.5 212,168.2 213,193 214,178.6 215.9,205.3 217.6,177.3 219.3,196.9 221.5,183.2 223.2,191.7 224.5,187.1 225.2,192.6 226,196.9 227.3,194.9 228.4,202.7 229.3,197.9 230.2,191.7 231.1,195.4 231.9,196.9 232.6,200.4 233.4,200.1 234.1,203.4 234.9,201.2 235.8,196.9 237.1,202.7 238.4,200.1 239,203.4" fill="none" stroke="#3535ff" stroke-width="1.15" stroke-linejoin="round"/>
<rect x="144.5" y="232.4" width="116.2" height="92.6" fill="none" stroke="#999999" stroke-width="1.2"/>
<path d="M151.1 325v-1.3 M155.5 325v-2.2 M169.5 325v-1.3 M180 325v-1.3 M186.2 325v-1.3 M190.6 325v-2.2 M204.5 325v-1.3 M215.1 325v-1.3 M221.3 325v-1.3 M225.6 325v-2.2 M239.6 325v-1.3 M250.1 325v-1.3 M256.3 325v-1.3 M144.5 260.4h2.2 M144.5 266.6h1.3 M144.5 271.2h1.3 M144.5 274h1.3 M144.5 244.9h2.2 M144.5 251.1h1.3 M144.5 255.7h1.3 M144.5 258.5h1.3 M144.5 235.6h1.3 M144.5 240.2h1.3 M144.5 243h1.3" stroke="#999999" stroke-width="0.8" fill="none"/>
<text x="154.4" y="333.7" font-size="8.8" text-anchor="middle">10</text><text x="158.4" y="330.1" font-size="6">3</text>
<text x="188.6" y="333.7" font-size="8.8" text-anchor="middle">10</text><text x="192.6" y="330.1" font-size="6">4</text>
<text x="222.7" y="333.7" font-size="8.8" text-anchor="middle">10</text><text x="226.7" y="330.1" font-size="6">5</text>
<text x="256.9" y="333.7" font-size="8.8" text-anchor="middle">10</text><text x="260.9" y="330.1" font-size="6">6</text>
<text transform="translate(141.1 251) rotate(-90)" font-size="8.6"><tspan>10</tspan><tspan dy="-3.2" font-size="5.8">-19</tspan></text>
<text transform="translate(141.1 282) rotate(-90)" font-size="8.6"><tspan>10</tspan><tspan dy="-3.2" font-size="5.8">-21</tspan></text>
<text transform="translate(141.1 313) rotate(-90)" font-size="8.6"><tspan>10</tspan><tspan dy="-3.2" font-size="5.8">-23</tspan></text>
<text transform="translate(129.5 281.4) rotate(-90)" font-size="9.5" text-anchor="middle">C(<tspan font-style="italic">q</tspan>)/m<tspan dy="-3.5" font-size="6">4</tspan></text>
<text x="199.8" y="341.8" font-size="9.2" text-anchor="middle"><tspan font-style="italic">q</tspan>/m<tspan dy="-3.6" font-size="5">-1</tspan></text>
<text x="184.5" y="247.1" font-size="8.8"><tspan font-style="italic">H</tspan>=0.079</text>
<text x="249.9" y="244.2" font-size="10.5" text-anchor="end" font-weight="bold">(g)</text>
<line x1="161.1" y1="240.9" x2="241.6" y2="310.6" stroke="#333" stroke-width="1" stroke-dasharray="1.7 1.9"/>
<polyline points="161.5,245.2 178.6,260.4 191.7,253.5 194.9,255.6 198.2,266.9 200.1,265.2 201.4,266.2 205.2,278 207.2,284.5 208.5,289.1 209.8,287.1 211.5,281.9 213,285.8 214.3,293 215.6,286.5 216.9,300.1 218.2,289.7 219.5,296.9 220.8,289.1 222.1,298.8 223.4,291.7 224.4,294 225.4,294.3 226.7,293 228,297.5 229.3,296.2 230.2,302.1 231.2,304 232.2,308.1 233.2,308.6 234.5,304 235.8,304.7 236.8,304.5 237.7,300.8 239,302.7 239.7,307.3" fill="none" stroke="#3535ff" stroke-width="1.15" stroke-linejoin="round"/>
<rect x="145.3" y="344.4" width="116.2" height="93" fill="none" stroke="#999999" stroke-width="1.2"/>
<path d="M151.9 437.4v-1.3 M156.3 437.4v-2.2 M170.3 437.4v-1.3 M180.8 437.4v-1.3 M187 437.4v-1.3 M191.4 437.4v-2.2 M205.3 437.4v-1.3 M215.9 437.4v-1.3 M222.1 437.4v-1.3 M226.4 437.4v-2.2 M240.4 437.4v-1.3 M250.9 437.4v-1.3 M257.1 437.4v-1.3 M145.3 372.4h2.2 M145.3 378.6h1.3 M145.3 383.2h1.3 M145.3 386h1.3 M145.3 356.9h2.2 M145.3 363.1h1.3 M145.3 367.7h1.3 M145.3 370.5h1.3 M145.3 347.6h1.3 M145.3 352.2h1.3 M145.3 355h1.3" stroke="#999999" stroke-width="0.8" fill="none"/>
<text x="156.3" y="446.5" font-size="8.8" text-anchor="middle">10</text><text x="160.3" y="442.9" font-size="6">3</text>
<text x="190.5" y="446.5" font-size="8.8" text-anchor="middle">10</text><text x="194.5" y="442.9" font-size="6">4</text>
<text x="224.6" y="446.5" font-size="8.8" text-anchor="middle">10</text><text x="228.6" y="442.9" font-size="6">5</text>
<text x="258.8" y="446.5" font-size="8.8" text-anchor="middle">10</text><text x="262.8" y="442.9" font-size="6">6</text>
<text transform="translate(141.9 365) rotate(-90)" font-size="8.6"><tspan>10</tspan><tspan dy="-3.2" font-size="5.8">-19</tspan></text>
<text transform="translate(141.9 396) rotate(-90)" font-size="8.6"><tspan>10</tspan><tspan dy="-3.2" font-size="5.8">-21</tspan></text>
<text transform="translate(141.9 427) rotate(-90)" font-size="8.6"><tspan>10</tspan><tspan dy="-3.2" font-size="5.8">-23</tspan></text>
<text transform="translate(131.8 395.4) rotate(-90)" font-size="9.5" text-anchor="middle">C(<tspan font-style="italic">q</tspan>)/m<tspan dy="-3.5" font-size="6">4</tspan></text>
<text x="201.8" y="453.9" font-size="9.2" text-anchor="middle"><tspan font-style="italic">q</tspan>/m<tspan dy="-3.6" font-size="5">-1</tspan></text>
<text x="184.9" y="359.9" font-size="8.8"><tspan font-style="italic">H</tspan>=0.041</text>
<text x="247.8" y="356.2" font-size="10.5" text-anchor="end" font-weight="bold">(h)</text>
<line x1="171" y1="358.5" x2="239.7" y2="421.2" stroke="#333" stroke-width="1" stroke-dasharray="1.7 1.9"/>
<polyline points="171.7,360.6 177.1,365.8 182.3,372.3 187.5,375.6 192.7,378.8 195.3,381.4 199.3,387.3 203.9,390.6 207.8,393.2 210.4,396.5 211.7,399.1 213,398.2 214.3,400.4 215.9,403 217.2,401 219.5,403 222.1,406.2 224.7,408.8 226.7,411.4 227.6,412.9 228.6,412.7 229.5,413.3 230.3,412.4 231.2,413.4 232.2,416 233.2,417.3 234.5,414.7 235.4,416.5 236.4,416.6 237.4,416.7 238.4,416 239.3,416.6" fill="none" stroke="#3535ff" stroke-width="1.15" stroke-linejoin="round"/>
<rect x="287.3" y="2.7" width="115.3" height="93.1" fill="none" stroke="#999999" stroke-width="1.2"/>
<path d="M287.8 95.8v-1.3 M294 95.8v-1.3 M298.3 95.8v-2.2 M312.1 95.8v-1.3 M322.6 95.8v-1.3 M328.7 95.8v-1.3 M333.1 95.8v-2.2 M346.9 95.8v-1.3 M357.4 95.8v-1.3 M363.5 95.8v-1.3 M367.8 95.8v-2.2 M381.7 95.8v-1.3 M392.1 95.8v-1.3 M398.3 95.8v-1.3 M287.3 30.7h2.2 M287.3 36.9h1.3 M287.3 41.5h1.3 M287.3 44.3h1.3 M287.3 15.2h2.2 M287.3 21.4h1.3 M287.3 26h1.3 M287.3 28.8h1.3 M287.3 5.9h1.3 M287.3 10.5h1.3 M287.3 13.3h1.3" stroke="#999999" stroke-width="0.8" fill="none"/>
<text x="297.6" y="106.8" font-size="8.8" text-anchor="middle">10</text><text x="301.6" y="103.2" font-size="6">3</text>
<text x="331.5" y="106.8" font-size="8.8" text-anchor="middle">10</text><text x="335.5" y="103.2" font-size="6">4</text>
<text x="365.3" y="106.8" font-size="8.8" text-anchor="middle">10</text><text x="369.3" y="103.2" font-size="6">5</text>
<text x="399.2" y="106.8" font-size="8.8" text-anchor="middle">10</text><text x="403.2" y="103.2" font-size="6">6</text>
<text transform="translate(283.9 24.8) rotate(-90)" font-size="8.6"><tspan>10</tspan><tspan dy="-3.2" font-size="5.8">-19</tspan></text>
<text transform="translate(283.9 55.8) rotate(-90)" font-size="8.6"><tspan>10</tspan><tspan dy="-3.2" font-size="5.8">-21</tspan></text>
<text transform="translate(283.9 86.8) rotate(-90)" font-size="8.6"><tspan>10</tspan><tspan dy="-3.2" font-size="5.8">-23</tspan></text>
<text transform="translate(272.3 54) rotate(-90)" font-size="9.5" text-anchor="middle">C(<tspan font-style="italic">q</tspan>)/m<tspan dy="-3.5" font-size="6">4</tspan></text>
<text x="343.2" y="113.6" font-size="9.2" text-anchor="middle"><tspan font-style="italic">q</tspan>/m<tspan dy="-3.6" font-size="5">-1</tspan></text>
<text x="324.7" y="20.6" font-size="8.8"><tspan font-style="italic">H</tspan>=0.069</text>
<text x="389.5" y="16.1" font-size="10.5" text-anchor="end" font-weight="bold">(i)</text>
<line x1="300.9" y1="16.6" x2="382.3" y2="84.7" stroke="#333" stroke-width="1" stroke-dasharray="1.7 1.9"/>
<polyline points="300.9,20.2 308,24.8 315.8,29.3 323.6,35.2 329.5,39.7 332.7,43.6 336.6,47.6 339.9,47.8 342,50.2 343.9,48.9 345.9,53.4 348.5,56 350.4,58 353,59.3 355,61.2 356.3,60.6 357.6,63.2 359.5,65.8 363.4,68.4 367.3,71.6 371.2,74.9 374.5,76.9 377.7,78.2 381,78.4" fill="none" stroke="#3535ff" stroke-width="1.15" stroke-linejoin="round"/>
<rect x="287.6" y="118" width="116" height="93.3" fill="none" stroke="#999999" stroke-width="1.2"/>
<path d="M294.2 211.3v-1.3 M298.6 211.3v-2.2 M312.5 211.3v-1.3 M323.1 211.3v-1.3 M329.2 211.3v-1.3 M333.6 211.3v-2.2 M347.5 211.3v-1.3 M358.1 211.3v-1.3 M364.2 211.3v-1.3 M368.6 211.3v-2.2 M382.5 211.3v-1.3 M393.1 211.3v-1.3 M399.2 211.3v-1.3 M287.6 146h2.2 M287.6 152.2h1.3 M287.6 156.8h1.3 M287.6 159.6h1.3 M287.6 130.5h2.2 M287.6 136.7h1.3 M287.6 141.3h1.3 M287.6 144.1h1.3 M287.6 121.2h1.3 M287.6 125.8h1.3 M287.6 128.6h1.3" stroke="#999999" stroke-width="0.8" fill="none"/>
<text x="297.1" y="219.9" font-size="8.8" text-anchor="middle">10</text><text x="301.1" y="216.3" font-size="6">3</text>
<text x="331.2" y="219.9" font-size="8.8" text-anchor="middle">10</text><text x="335.2" y="216.3" font-size="6">4</text>
<text x="365.3" y="219.9" font-size="8.8" text-anchor="middle">10</text><text x="369.3" y="216.3" font-size="6">5</text>
<text x="399.4" y="219.9" font-size="8.8" text-anchor="middle">10</text><text x="403.4" y="216.3" font-size="6">6</text>
<text transform="translate(284.2 138.6) rotate(-90)" font-size="8.6"><tspan>10</tspan><tspan dy="-3.2" font-size="5.8">-19</tspan></text>
<text transform="translate(284.2 169.6) rotate(-90)" font-size="8.6"><tspan>10</tspan><tspan dy="-3.2" font-size="5.8">-21</tspan></text>
<text transform="translate(284.2 200.6) rotate(-90)" font-size="8.6"><tspan>10</tspan><tspan dy="-3.2" font-size="5.8">-23</tspan></text>
<text transform="translate(272.6 169) rotate(-90)" font-size="9.5" text-anchor="middle">C(<tspan font-style="italic">q</tspan>)/m<tspan dy="-3.5" font-size="6">4</tspan></text>
<text x="343" y="227.4" font-size="9.2" text-anchor="middle"><tspan font-style="italic">q</tspan>/m<tspan dy="-3.6" font-size="5">-1</tspan></text>
<text x="324.5" y="134.2" font-size="8.8"><tspan font-style="italic">H</tspan>=0.067</text>
<text x="389.5" y="130.2" font-size="11" text-anchor="end">(j)</text>
<line x1="313.1" y1="133.5" x2="383.4" y2="199.3" stroke="#333" stroke-width="1" stroke-dasharray="1.7 1.9"/>
<polyline points="313.1,134.8 320.6,141.3 327.1,145.8 331,149.1 334.3,153 336.2,152.6 338.8,154.3 344,159.5 346.7,163.4 349.3,167.3 352.8,171.9 355.2,173.2 356.7,177.8 358.3,182.3 360.6,179.1 362.6,181 365.2,183.6 368.4,186.9 372.3,189.5 376.2,192.7 379.5,194 382.1,194.7" fill="none" stroke="#3535ff" stroke-width="1.15" stroke-linejoin="round"/>
<rect x="288.5" y="232.3" width="116" height="92.8" fill="none" stroke="#999999" stroke-width="1.2"/>
<path d="M295.1 325.1v-1.3 M299.5 325.1v-2.2 M313.4 325.1v-1.3 M324 325.1v-1.3 M330.1 325.1v-1.3 M334.5 325.1v-2.2 M348.4 325.1v-1.3 M359 325.1v-1.3 M365.1 325.1v-1.3 M369.5 325.1v-2.2 M383.4 325.1v-1.3 M394 325.1v-1.3 M400.1 325.1v-1.3 M288.5 260.3h2.2 M288.5 266.5h1.3 M288.5 271.1h1.3 M288.5 273.9h1.3 M288.5 244.8h2.2 M288.5 251h1.3 M288.5 255.6h1.3 M288.5 258.4h1.3 M288.5 235.5h1.3 M288.5 240.1h1.3 M288.5 242.9h1.3" stroke="#999999" stroke-width="0.8" fill="none"/>
<text x="298.6" y="333.6" font-size="8.8" text-anchor="middle">10</text><text x="302.6" y="330" font-size="6">3</text>
<text x="332.7" y="333.6" font-size="8.8" text-anchor="middle">10</text><text x="336.7" y="330" font-size="6">4</text>
<text x="366.8" y="333.6" font-size="8.8" text-anchor="middle">10</text><text x="370.8" y="330" font-size="6">5</text>
<text x="400.9" y="333.6" font-size="8.8" text-anchor="middle">10</text><text x="404.9" y="330" font-size="6">6</text>
<text transform="translate(285.1 252.4) rotate(-90)" font-size="8.6"><tspan>10</tspan><tspan dy="-3.2" font-size="5.8">-19</tspan></text>
<text transform="translate(285.1 283.4) rotate(-90)" font-size="8.6"><tspan>10</tspan><tspan dy="-3.2" font-size="5.8">-21</tspan></text>
<text transform="translate(285.1 314.4) rotate(-90)" font-size="8.6"><tspan>10</tspan><tspan dy="-3.2" font-size="5.8">-23</tspan></text>
<text transform="translate(273.5 282.8) rotate(-90)" font-size="9.5" text-anchor="middle">C(<tspan font-style="italic">q</tspan>)/m<tspan dy="-3.5" font-size="6">4</tspan></text>
<text x="343.6" y="341.8" font-size="9.2" text-anchor="middle"><tspan font-style="italic">q</tspan>/m<tspan dy="-3.6" font-size="5">-1</tspan></text>
<text x="324.5" y="247.8" font-size="8.8"><tspan font-style="italic">H</tspan>=0.027</text>
<text x="392.3" y="245.9" font-size="10.5" text-anchor="end" font-weight="bold">(k)</text>
<line x1="310" y1="245.2" x2="383.4" y2="319.5" stroke="#333" stroke-width="1" stroke-dasharray="1.7 1.9"/>
<polyline points="314.4,247.8 331,262.3 333,265.6 336.2,272.7 343.4,285.1 344.7,289 345.7,294.7 347.6,294.1 349.6,294.7 351.5,290.8 353.5,292.1 355.2,293.4 356.7,290.2 358,292.8 359.3,296.7 360.4,299.3 361.9,298.6 363.9,301.2 365.8,304.5 367.8,303.2 369.7,305.8 372.3,308.4 375.6,311 378.8,312.7 383.4,313.6" fill="none" stroke="#3535ff" stroke-width="1.15" stroke-linejoin="round"/>
<rect x="287.6" y="345.1" width="116" height="93.3" fill="none" stroke="#999999" stroke-width="1.2"/>
<path d="M294.2 438.4v-1.3 M298.6 438.4v-2.2 M312.5 438.4v-1.3 M323.1 438.4v-1.3 M329.2 438.4v-1.3 M333.6 438.4v-2.2 M347.5 438.4v-1.3 M358.1 438.4v-1.3 M364.2 438.4v-1.3 M368.6 438.4v-2.2 M382.5 438.4v-1.3 M393.1 438.4v-1.3 M399.2 438.4v-1.3 M287.6 373.1h2.2 M287.6 379.3h1.3 M287.6 383.9h1.3 M287.6 386.7h1.3 M287.6 357.6h2.2 M287.6 363.8h1.3 M287.6 368.4h1.3 M287.6 371.2h1.3 M287.6 348.3h1.3 M287.6 352.9h1.3 M287.6 355.7h1.3" stroke="#999999" stroke-width="0.8" fill="none"/>
<text x="298.6" y="446.5" font-size="8.8" text-anchor="middle">10</text><text x="302.6" y="442.9" font-size="6">3</text>
<text x="332.7" y="446.5" font-size="8.8" text-anchor="middle">10</text><text x="336.7" y="442.9" font-size="6">4</text>
<text x="366.8" y="446.5" font-size="8.8" text-anchor="middle">10</text><text x="370.8" y="442.9" font-size="6">5</text>
<text x="400.9" y="446.5" font-size="8.8" text-anchor="middle">10</text><text x="404.9" y="442.9" font-size="6">6</text>
<text transform="translate(284.2 365.2) rotate(-90)" font-size="8.6"><tspan>10</tspan><tspan dy="-3.2" font-size="5.8">-19</tspan></text>
<text transform="translate(284.2 396.2) rotate(-90)" font-size="8.6"><tspan>10</tspan><tspan dy="-3.2" font-size="5.8">-21</tspan></text>
<text transform="translate(284.2 427.2) rotate(-90)" font-size="8.6"><tspan>10</tspan><tspan dy="-3.2" font-size="5.8">-23</tspan></text>
<text transform="translate(272.6 395.1) rotate(-90)" font-size="9.5" text-anchor="middle">C(<tspan font-style="italic">q</tspan>)/m<tspan dy="-3.5" font-size="6">4</tspan></text>
<text x="343.8" y="455" font-size="9.2" text-anchor="middle"><tspan font-style="italic">q</tspan>/m<tspan dy="-3.6" font-size="5">-1</tspan></text>
<text x="324.7" y="361.7" font-size="8.8"><tspan font-style="italic">H</tspan>=0.12</text>
<text x="390.9" y="357.3" font-size="11" text-anchor="end">(l)</text>
<line x1="300.5" y1="358" x2="380.1" y2="429.2" stroke="#333" stroke-width="1" stroke-dasharray="1.7 1.9"/>
<polyline points="301.2,363.5 318.4,376.9 326.2,368.2 330.1,367.8 331.4,368.4 334.7,387.3 338,386 340.6,372.3 343.2,386.6 345.8,382.7 347.3,382.6 348.9,385.2 349.9,393 352.2,393.7 353.5,395.6 353.9,417.1 354.4,406 356.1,408 358,409.9 358.7,415.8 360,411.9 361.3,414.5 363.2,411.9 365.8,415.8 369.1,419 373,422.3 376.9,424.3 381.4,425.8" fill="none" stroke="#3535ff" stroke-width="1.15" stroke-linejoin="round"/>
<rect x="429.5" y="5.8" width="112.4" height="91.5" fill="none" stroke="#999999" stroke-width="1.2"/>
<path d="M448.2 97.3v-1.8 M467 97.3v-1.8 M485.7 97.3v-1.8 M504.4 97.3v-1.8 M523.2 97.3v-1.8 M429.5 79h1.8 M429.5 60.7h1.8 M429.5 42.4h1.8 M429.5 24.1h1.8" stroke="#999999" stroke-width="0.8" fill="none"/>
<text x="428.9" y="105.3" font-size="9" text-anchor="middle">0</text>
<text x="466.4" y="105.3" font-size="9" text-anchor="middle">2</text>
<text x="503.8" y="105.3" font-size="9" text-anchor="middle">4</text>
<text x="541.3" y="105.3" font-size="9" text-anchor="middle">6</text>
<text x="427.7" y="82" font-size="9" text-anchor="end">0.2</text>
<text x="427.7" y="63.7" font-size="9" text-anchor="end">0.4</text>
<text x="427.7" y="45.4" font-size="9" text-anchor="end">0.6</text>
<text x="427.7" y="27.1" font-size="9" text-anchor="end">0.8</text>
<text x="425.9" y="11.6" font-size="9" text-anchor="end">1</text>
<text x="424" y="98.8" font-size="9" text-anchor="end">0</text>
<text transform="translate(416.1 60.1) rotate(-90)" font-size="9.5" text-anchor="middle"><tspan font-style="italic">A</tspan>/<tspan font-style="italic">A</tspan><tspan dy="1.3" font-size="6.5">0</tspan></text>
<text x="482.5" y="114.6" font-size="9.5" text-anchor="middle"><tspan font-style="italic">z</tspan>/<tspan font-style="italic">σ</tspan></text>
<text x="528" y="20.5" font-size="11" text-anchor="end">(m)</text>
<path d="M429.7 5.8C430.5 6.2 432.7 7 434.4 8C436.1 9 438.1 10.3 439.7 11.6C441.3 12.9 442.8 14 444 15.8C445.2 17.6 446.1 20.1 447.1 22.2C448.2 24.3 449.1 26.3 450.3 28.6C451.6 30.9 453 33.3 454.6 36C456.2 38.7 457.9 42.1 459.9 44.6C461.8 47.1 464.4 48.8 466.3 50.9C468.2 53 469.8 54.8 471.6 57.3C473.4 59.8 475.3 62.8 476.9 65.8C478.5 68.8 479.9 72.7 481.2 75.4C482.4 78.1 483 79.8 484.4 81.8C485.8 83.8 487.8 85.5 489.7 87.1C491.6 88.7 493.8 90 496.1 91.4C498.4 92.8 501 94.6 503.5 95.6C506 96.6 508.6 96.9 511 97.3C513.4 97.7 516.8 97.6 518 97.7" fill="none" stroke="#3535ff" stroke-width="1.2"/>
<rect x="429.1" y="120.4" width="112.9" height="90.8" fill="none" stroke="#999999" stroke-width="1.2"/>
<path d="M447.9 211.2v-1.8 M466.7 211.2v-1.8 M485.6 211.2v-1.8 M504.4 211.2v-1.8 M523.2 211.2v-1.8 M429.1 193h1.8 M429.1 174.9h1.8 M429.1 156.7h1.8 M429.1 138.6h1.8" stroke="#999999" stroke-width="0.8" fill="none"/>
<text x="428.5" y="219.2" font-size="9" text-anchor="middle">0</text>
<text x="466.1" y="219.2" font-size="9" text-anchor="middle">2</text>
<text x="503.8" y="219.2" font-size="9" text-anchor="middle">4</text>
<text x="541.4" y="219.2" font-size="9" text-anchor="middle">6</text>
<text x="427.3" y="196" font-size="9" text-anchor="end">0.2</text>
<text x="427.3" y="177.9" font-size="9" text-anchor="end">0.4</text>
<text x="427.3" y="159.7" font-size="9" text-anchor="end">0.6</text>
<text x="427.3" y="141.6" font-size="9" text-anchor="end">0.8</text>
<text x="425.5" y="126.2" font-size="9" text-anchor="end">1</text>
<text x="423.6" y="212.7" font-size="9" text-anchor="end">0</text>
<text transform="translate(415.7 174.7) rotate(-90)" font-size="9.5" text-anchor="middle"><tspan font-style="italic">A</tspan>/<tspan font-style="italic">A</tspan><tspan dy="1.3" font-size="6.5">0</tspan></text>
<text x="482.1" y="228.5" font-size="9.5" text-anchor="middle"><tspan font-style="italic">z</tspan>/<tspan font-style="italic">σ</tspan></text>
<text x="526.8" y="132.7" font-size="11" text-anchor="end">(n)</text>
<path d="M429.1 120.4C431.1 120.4 437.6 120.4 441 120.6C444.4 120.8 447.2 121 449.7 121.5C452.2 122 454 122.8 456.2 123.7C458.4 124.6 460.5 125.6 462.7 126.9C464.9 128.2 467.4 129.9 469.2 131.3C471 132.8 472.2 133.6 473.6 135.6C475.1 137.6 476.4 140.1 477.9 143.2C479.3 146.3 480.9 150.5 482.3 154.1C483.8 157.7 485.2 161.5 486.6 164.9C488 168.3 489.1 171.4 490.9 174.7C492.7 178 495.5 181.6 497.5 184.5C499.5 187.4 501.1 189.8 502.9 192.1C504.7 194.4 506.5 197 508.3 198.6C510.1 200.2 511.5 200.7 513.7 201.8C515.9 202.9 518.9 203.8 521.3 205.1C523.6 206.4 526 208.4 527.8 209.4C529.6 210.4 529.8 210.6 532.2 210.9C534.6 211.2 540.4 211.1 542 211.2" fill="none" stroke="#3535ff" stroke-width="1.2"/>
<rect x="430.3" y="233.6" width="112.7" height="91.4" fill="none" stroke="#999999" stroke-width="1.2"/>
<path d="M449.1 325v-1.8 M467.9 325v-1.8 M486.6 325v-1.8 M505.4 325v-1.8 M524.2 325v-1.8 M430.3 306.7h1.8 M430.3 288.4h1.8 M430.3 270.2h1.8 M430.3 251.9h1.8" stroke="#999999" stroke-width="0.8" fill="none"/>
<text x="429.7" y="333" font-size="9" text-anchor="middle">0</text>
<text x="467.3" y="333" font-size="9" text-anchor="middle">2</text>
<text x="504.8" y="333" font-size="9" text-anchor="middle">4</text>
<text x="542.4" y="333" font-size="9" text-anchor="middle">6</text>
<text x="428.5" y="309.7" font-size="9" text-anchor="end">0.2</text>
<text x="428.5" y="291.4" font-size="9" text-anchor="end">0.4</text>
<text x="428.5" y="273.2" font-size="9" text-anchor="end">0.6</text>
<text x="428.5" y="254.9" font-size="9" text-anchor="end">0.8</text>
<text x="426.7" y="239.4" font-size="9" text-anchor="end">1</text>
<text x="424.8" y="326.5" font-size="9" text-anchor="end">0</text>
<text transform="translate(416.9 287.9) rotate(-90)" font-size="9.5" text-anchor="middle"><tspan font-style="italic">A</tspan>/<tspan font-style="italic">A</tspan><tspan dy="1.3" font-size="6.5">0</tspan></text>
<text x="483.3" y="342.3" font-size="9.5" text-anchor="middle"><tspan font-style="italic">z</tspan>/<tspan font-style="italic">σ</tspan></text>
<text x="526.1" y="247.2" font-size="11" text-anchor="end">(o)</text>
<path d="M430.6 234.1C433.1 234.3 440.4 235 445.4 235.6C450.4 236.2 456.3 236.7 460.6 237.8C464.9 238.9 467.8 240.3 471.4 242.1C475 243.9 479.8 246.4 482.3 248.6C484.8 250.8 484.8 252.4 486.6 255.1C488.4 257.8 491.1 262 493.1 264.9C495.1 267.8 496.9 269.6 498.5 272.5C500.1 275.4 501.3 278.9 502.9 282.3C504.5 285.7 506.5 289.3 508.3 293.1C510.1 296.9 511.9 301.3 513.7 305.1C515.5 308.9 517.4 313 519.2 315.9C521 318.8 523 320.9 524.6 322.4C526.2 323.8 525.8 324.2 528.9 324.6C532 325 540.6 324.9 543 325" fill="none" stroke="#3535ff" stroke-width="1.2"/>
<rect x="429" y="344.5" width="113" height="91.3" fill="none" stroke="#999999" stroke-width="1.2"/>
<path d="M447.8 435.8v-1.8 M466.7 435.8v-1.8 M485.5 435.8v-1.8 M504.3 435.8v-1.8 M523.2 435.8v-1.8 M429 417.5h1.8 M429 399.3h1.8 M429 381h1.8 M429 362.8h1.8" stroke="#999999" stroke-width="0.8" fill="none"/>
<text x="428.4" y="443.8" font-size="9" text-anchor="middle">0</text>
<text x="466.1" y="443.8" font-size="9" text-anchor="middle">2</text>
<text x="503.7" y="443.8" font-size="9" text-anchor="middle">4</text>
<text x="541.4" y="443.8" font-size="9" text-anchor="middle">6</text>
<text x="427.2" y="420.5" font-size="9" text-anchor="end">0.2</text>
<text x="427.2" y="402.3" font-size="9" text-anchor="end">0.4</text>
<text x="427.2" y="384" font-size="9" text-anchor="end">0.6</text>
<text x="427.2" y="365.8" font-size="9" text-anchor="end">0.8</text>
<text x="425.4" y="350.3" font-size="9" text-anchor="end">1</text>
<text x="423.5" y="437.3" font-size="9" text-anchor="end">0</text>
<text transform="translate(415.6 398.8) rotate(-90)" font-size="9.5" text-anchor="middle"><tspan font-style="italic">A</tspan>/<tspan font-style="italic">A</tspan><tspan dy="1.3" font-size="6.5">0</tspan></text>
<text x="482" y="453.1" font-size="9.5" text-anchor="middle"><tspan font-style="italic">z</tspan>/<tspan font-style="italic">σ</tspan></text>
<text x="527.8" y="359.2" font-size="11" text-anchor="end">(p)</text>
<path d="M429.7 344.3C431.1 344.5 435 344.8 437.8 345.4C440.6 345.9 444.3 346.5 446.5 347.6C448.7 348.7 449.2 349.9 450.8 351.9C452.4 353.9 454.6 357 456.2 359.5C457.8 362 459.2 364.6 460.6 367.1C462.1 369.6 463.1 372.2 464.9 374.7C466.7 377.2 469.6 379.8 471.4 382.3C473.2 384.8 474.2 387 475.8 389.9C477.4 392.8 479.6 397.2 481.2 399.7C482.8 402.2 483.9 402.9 485.5 405.1C487.1 407.3 488.9 409.8 490.9 412.7C492.9 415.6 495.3 419.6 497.5 422.5C499.7 425.4 501.8 428.2 504 430.1C506.2 432 508.3 432.9 510.5 433.8C512.7 434.7 514.8 435.2 517 435.5C519.2 435.8 522.4 435.5 523.5 435.5" fill="none" stroke="#3535ff" stroke-width="1.2"/>
</g></svg></body></html>
